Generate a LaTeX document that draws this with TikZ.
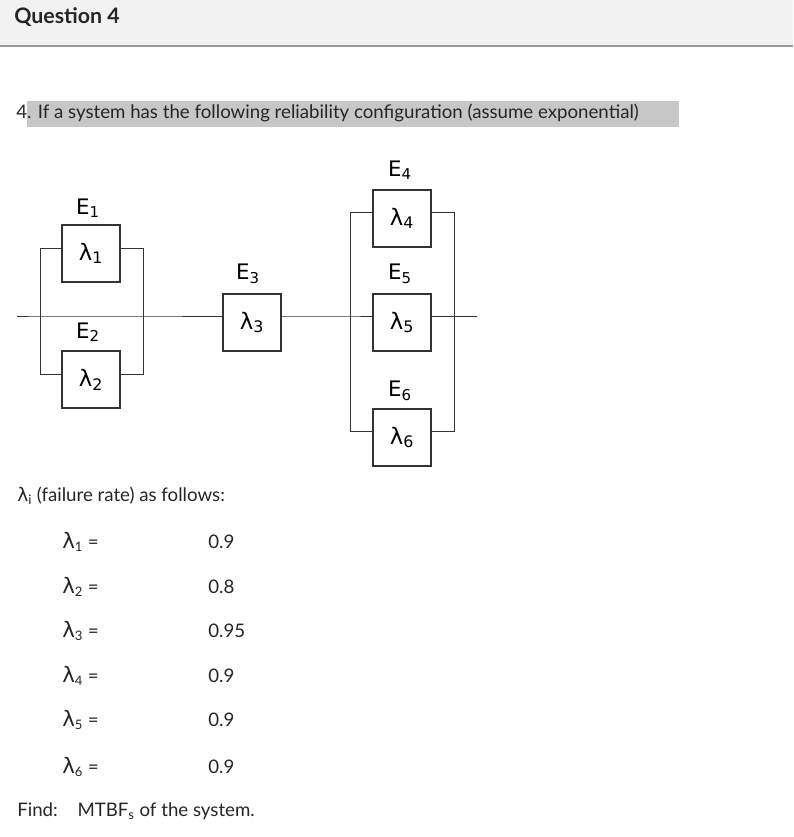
\documentclass[tikz,border=0pt]{standalone}
\usepackage{fontspec}
\setmainfont{Lato}
\newfontfamily\dvs{DejaVu Sans}
\begin{document}
\begin{tikzpicture}[x=0.75pt,y=-0.75pt,
  blk/.style={draw=black!80,line width=0.9pt,minimum width=43.5pt,minimum height=42.75pt,inner sep=0pt,font=\dvs\fontsize{17}{20}\selectfont},
  lbl/.style={font=\dvs\fontsize{16}{19}\selectfont},
  wire/.style={draw=black!80,line width=0.7pt},
  txt/.style={anchor=west,inner sep=0pt,font=\fontsize{14}{17}\selectfont,text=black!85}]
\useasboundingbox (0,0) rectangle (793,837);
\fill[black!5] (0,0) rectangle (793,45);
\draw[black!40,line width=0.8pt] (0,46) -- (793,46);
\node[anchor=west,inner sep=0pt,font=\fontsize{16}{19}\selectfont\bfseries,text=black!85] (q) at (14,17) {Question 4};
\fill[black!22] (27,101) rectangle (679,127);
\node[txt] (intro) at (16,113) {4. If a system has the following reliability configuration (assume exponential)};
% blocks
\node[blk] (b1) at (91,253.5) {λ\textsubscript{1}};
\node[blk] (b2) at (91,379.5) {λ\textsubscript{2}};
\node[blk] (b3) at (252,322.5) {λ\textsubscript{3}};
\node[blk] (b4) at (402,218.5) {λ\textsubscript{4}};
\node[blk] (b5) at (402,322.5) {λ\textsubscript{5}};
\node[blk] (b6) at (402,437.5) {λ\textsubscript{6}};
\node[lbl] (e1) at (88,208) {E\textsubscript{1}};
\node[lbl] (e2) at (88,332) {E\textsubscript{2}};
\node[lbl] (e3) at (248,274) {E\textsubscript{3}};
\node[lbl] (e4) at (400,170) {E\textsubscript{4}};
\node[lbl] (e5) at (400,274) {E\textsubscript{5}};
\node[lbl] (e6) at (400,391) {E\textsubscript{6}};
\coordinate (in) at (17,316);
\coordinate (out) at (477,316);
\coordinate (L1) at (40,316);
\coordinate (R1) at (143,316);
\coordinate (L2) at (350,316);
\coordinate (R2) at (454,316);
\draw[wire] (in) -- (L1) -- (R1) -- (b3.west |- R1);
\draw[wire] (b3.east |- L2) -- (L2) -- (b5.west |- L2);
\draw[wire] (b5.east |- R2) -- (out);
\draw[wire] (b1.west |- 0,248) -| (40,374) -- (b2.west |- 0,374);
\draw[wire] (b1.east |- 0,248) -| (143,374) -- (b2.east |- 0,374);
\draw[wire] (b4.west |- 0,212) -| (350,431) -- (b6.west |- 0,431);
\draw[wire] (b4.east |- 0,212) -| (454,431) -- (b6.east |- 0,431);
% list
\node[txt] (h) at (17,496) {{\dvs λ}\textsubscript{i} (failure rate) as follows:};
\foreach \i/\v/\y in {1/0.9/542,2/0.8/587,3/0.95/631,4/0.9/676,5/0.9/720,6/0.9/767}{
  \node[txt] (l\i) at (62,\y) {{\dvs\fontsize{16}{19}\selectfont λ}\textsubscript{\i} =};
  \node[txt] (v\i) at (208,\y) {\v};
}
\node[txt] (find) at (17,811) {Find:\hspace{10pt} MTBF\textsubscript{s} of the system.};
\end{tikzpicture}
\end{document}
